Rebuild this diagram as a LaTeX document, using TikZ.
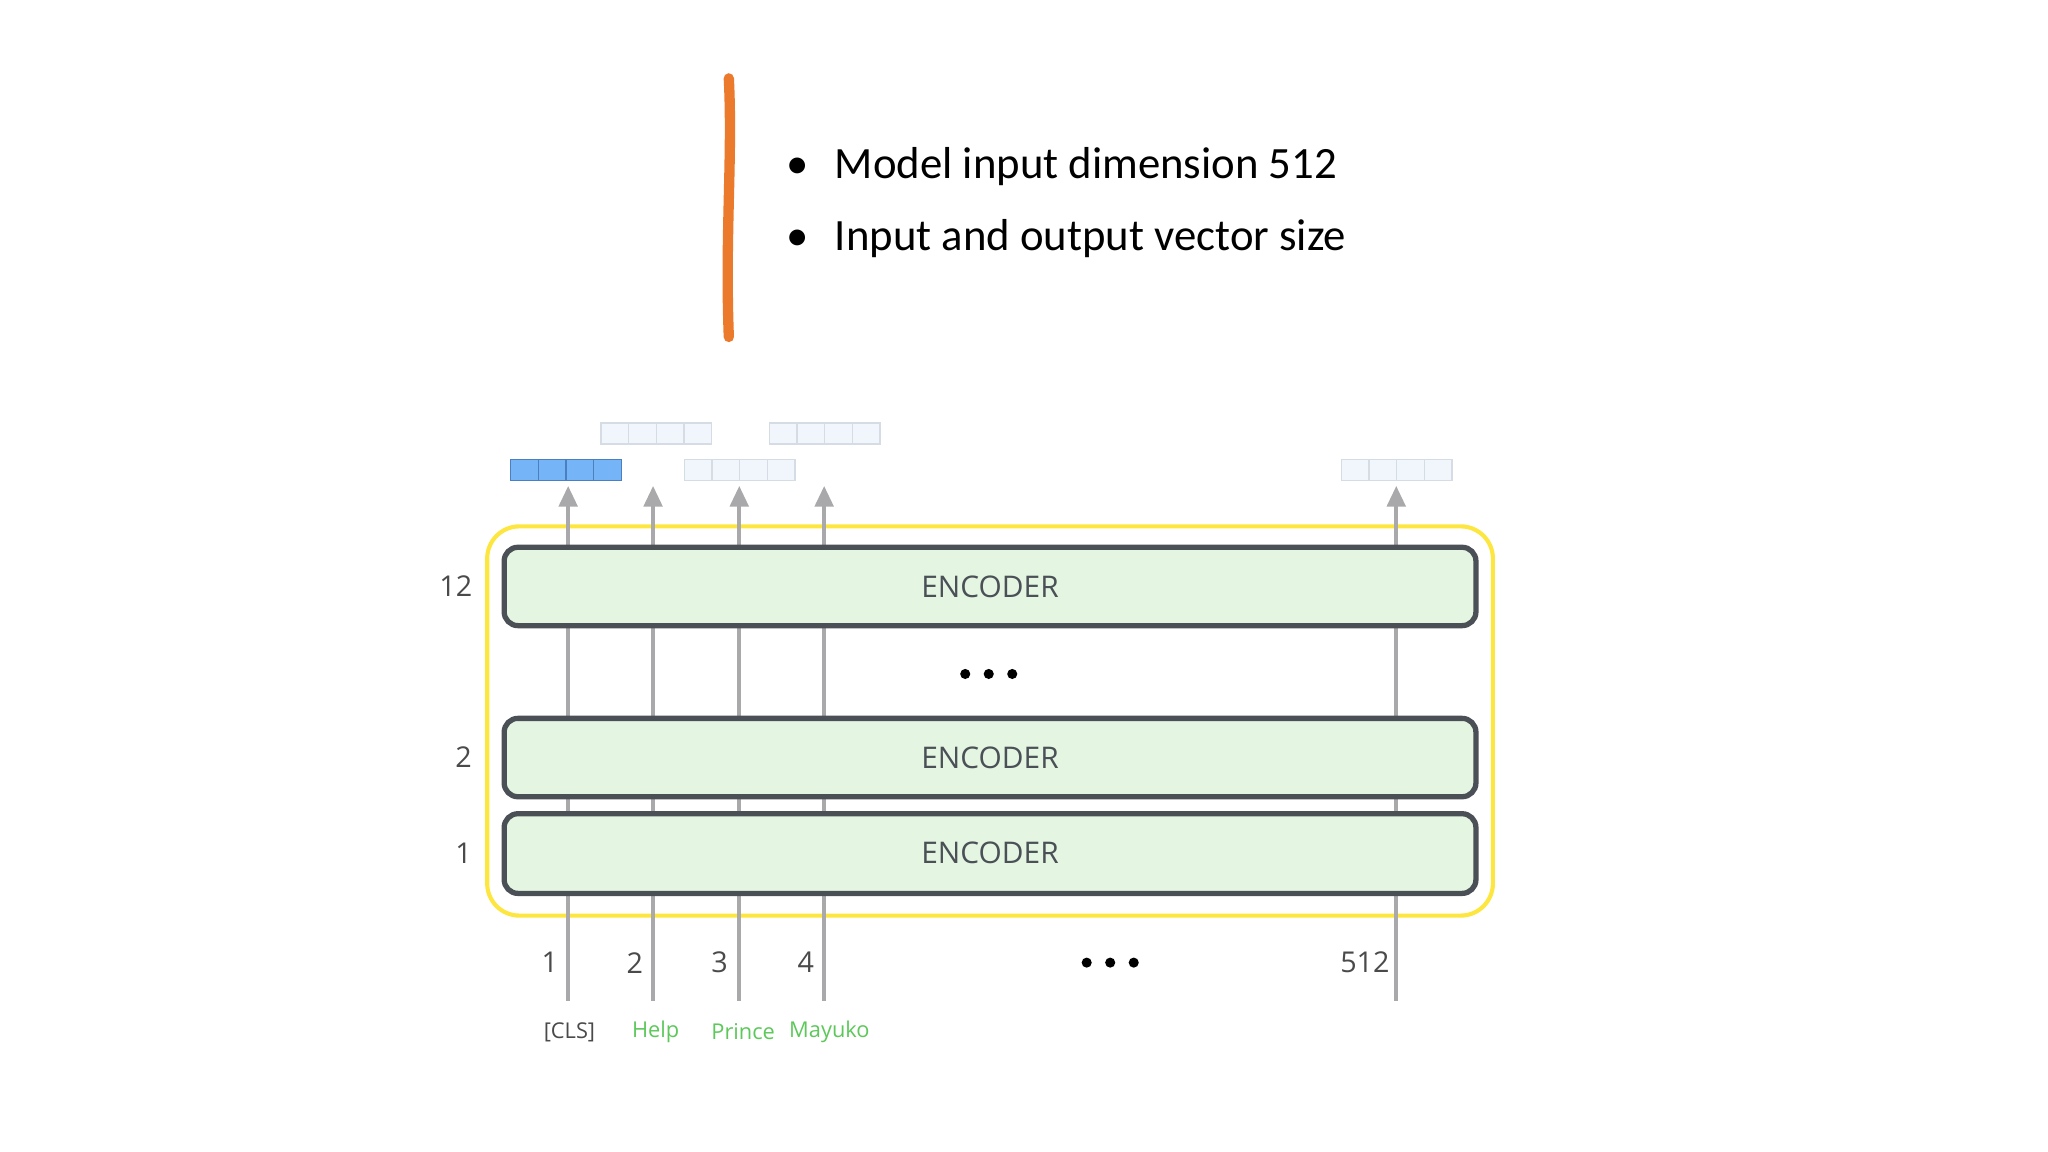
\documentclass[tikz,border=0pt]{standalone}
\usepackage{fontspec}
\usetikzlibrary{arrows.meta}
\setmainfont{Open Sans}
\newfontfamily\bul{Carlito}
\begin{document}
\begin{tikzpicture}[x=0.02cm,y=-0.02cm,
  enc/.style={draw=encline,fill=encfill,rounded corners=6pt,line width=2.3pt},
  enct/.style={font=\fontsize{13}{15}\selectfont,text=encline},
  ar/.style={draw=arr,line width=1.7pt},
  cellL/.style={draw=cellb,fill=cellf,line width=0.6pt},
  cellB/.style={draw=blueb,fill=bluef,line width=0.6pt},
  lab/.style={font=\fontsize{12.5}{14}\selectfont,text=numc},
  tok/.style={font=\fontsize{9.5}{11}\selectfont},
  bt/.style={anchor=base west,font=\bul\fontsize{19.5}{22}\selectfont},
  dot/.style={fill=black,draw=none}]
\definecolor{encline}{HTML}{4A5056}
\definecolor{encfill}{HTML}{E4F5E2}
\definecolor{arr}{HTML}{A9A9AB}
\definecolor{cellb}{HTML}{D6DCE3}
\definecolor{cellf}{HTML}{F1F6FC}
\definecolor{blueb}{HTML}{4A7FC0}
\definecolor{bluef}{HTML}{74B4F7}
\definecolor{numc}{HTML}{4A4A4A}
\definecolor{ylw}{HTML}{FCE63F}
\definecolor{org}{HTML}{EC7A2C}
\definecolor{grn}{HTML}{5CC85A}
\useasboundingbox (0,0) rectangle (1568,882);
% orange stroke
\draw[org,line width=4.5pt,line cap=round] (558,60) .. controls (561,120) and (555,180) .. (558,258);
% bullets
\node[bt,anchor=base] (d1) at (611,137) {•};
\node[bt] (b1) at (633,137) {Model input dimension 512};
\node[bt,anchor=base] (d2) at (611,192) {•};
\node[bt] (b2) at (633,192) {Input and output vector size};
% yellow frame
\draw[ylw,line width=1.8pt,rounded corners=14pt] (373,403) rectangle (1143,701);
% arrows
\foreach \x/\n in {435/a1,500/a2,566/a3,631/a4,1069/a5}{
  \coordinate (\n s) at (\x,766);
  \coordinate (\n e) at (\x,372);
  \draw[ar,-{Triangle[length=9pt,width=8pt]}] (\n s) -- (\n e);
}
% encoders
\draw[enc] (386,419) rectangle (1130,479);
\node[enct] (e12) at (758,449) {ENCODER};
\draw[enc] (386,550) rectangle (1130,610);
\node[enct] (e2) at (758,580) {ENCODER};
\draw[enc] (386,623) rectangle (1130,684);
\node[enct] (e1) at (758,653) {ENCODER};
% vectors
\foreach \x/\y/\s in {391/352/cellB,460/324/cellL,589/324/cellL,524/352/cellL,1027/352/cellL}{
  \foreach \i in {0,1,2,3}{
    \draw[\s] (\x+\i*21.2,\y) rectangle (\x+\i*21.2+21.2,\y+16);
  }
}
% dots
\foreach \cx/\cy in {757/516,850/737}{
  \foreach \d in {-18,0,18}{\fill[dot] (\cx+\d,\cy) circle (2.2pt);}
}
% layer labels
\node[lab] (l12) at (349,449) {12};
\node[lab] (l2) at (355,580) {2};
\node[lab] (l1) at (355,653) {1};
% position numbers
\node[lab] (p1) at (421,737) {1};
\node[lab] (p2) at (486,737) {2};
\node[lab] (p3) at (551,737) {3};
\node[lab] (p4) at (617,737) {4};
\node[lab] (p5) at (1045,737) {512};
% tokens
\node[tok,text=numc] (t1) at (436,790) {[CLS]};
\node[tok,text=grn] (t2) at (502,790) {Help};
\node[tok,text=grn] (t3) at (569,790) {Prince};
\node[tok,text=grn] (t4) at (635,790) {Mayuko};
\end{tikzpicture}
\end{document}
